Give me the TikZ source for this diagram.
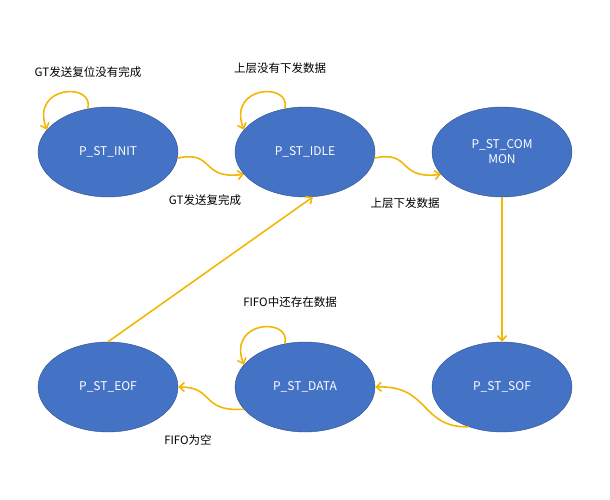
\documentclass[tikz,border=0pt]{standalone}
\usepackage{fontspec}
\setmainfont{Noto Sans CJK SC}
\usetikzlibrary{arrows.meta,shapes.geometric}
\definecolor{fillb}{HTML}{4472C4}
\definecolor{edgeb}{HTML}{2F528F}
\definecolor{arr}{HTML}{F2B705}
\begin{document}
\begin{tikzpicture}[x=1pt,y=-1pt,
  st/.style={ellipse,draw=edgeb,fill=fillb,minimum width=140pt,minimum height=90pt,text=white,font=\fontsize{12}{15}\selectfont,align=center,inner sep=0pt},
  ar/.style={draw=arr,line width=1.6pt,-{Straight Barb[length=5pt,width=9pt]}},
  lb/.style={font=\fontsize{11.5}{14}\selectfont}]
\useasboundingbox (0,0) rectangle (610,500);
\node[st] (init) at (108,152) {P\_ST\_INIT};
\node[st] (idle) at (305,152) {P\_ST\_IDLE};
\node[st] (com) at (502,152) {P\_ST\_COM\\MON};
\node[st] (eof) at (108,387) {P\_ST\_EOF};
\node[st] (data) at (305,387) {P\_ST\_DATA};
\node[st] (sof) at (502,387) {P\_ST\_SOF};
\draw[ar] (init.-5) .. controls (215,150) and (200,180) .. (idle.200);
\draw[ar] (idle.-5) .. controls (412,150) and (397,180) .. (com.200);
\draw[ar] (com.south) -- (sof.north);
\draw[ar] (sof.-130) .. controls (420,428) and (430,385) .. (data.east);
\draw[ar] (data.-160) .. controls (200,412) and (215,387) .. (eof.east);
\draw[ar] (eof.north) -- (idle.-80);
\draw[ar] (init.115) .. controls (95,82) and (30,85) .. (init.160);
\draw[ar] (idle.115) .. controls (292,82) and (227,85) .. (idle.160);
\draw[ar] (data.115) .. controls (292,317) and (227,320) .. (data.160);
\node[lb] (l1) at (88,72) {GT发送复位没有完成};
\node[lb] (l2) at (280,68) {上层没有下发数据};
\node[lb] (l3) at (205,200) {GT发送复完成};
\node[lb] (l4) at (405,203) {上层下发数据};
\node[lb] (l5) at (290,302) {FIFO中还存在数据};
\node[lb] (l6) at (188,440) {FIFO为空};
\end{tikzpicture}
\end{document}
